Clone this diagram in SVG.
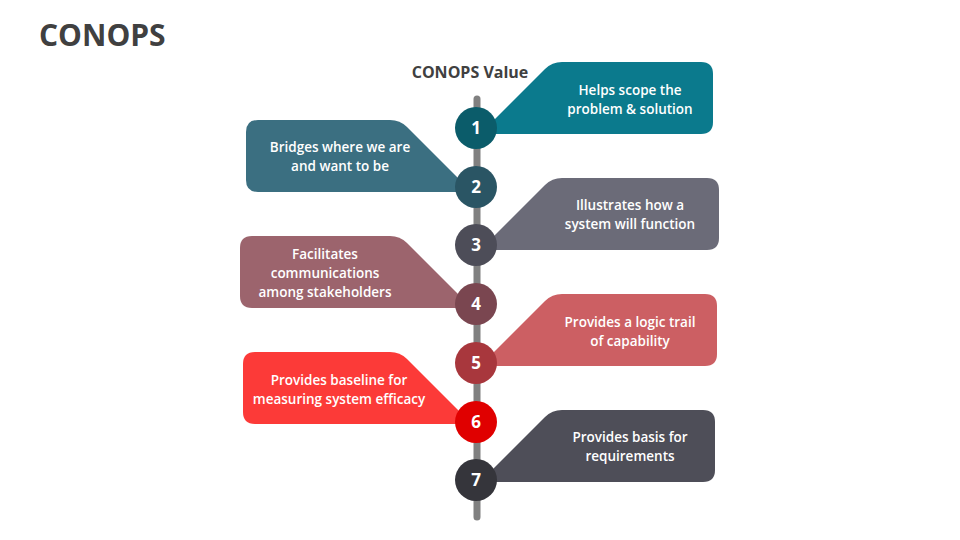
<svg xmlns="http://www.w3.org/2000/svg" width="960" height="540" viewBox="0 0 960 540">
<style>
.t{font-family:"Open Sans","Liberation Sans",sans-serif;font-weight:600;font-size:13.5px;fill:#fff;text-anchor:middle}
.n{font-family:"Open Sans","Liberation Sans",sans-serif;font-weight:700;font-size:17px;fill:#fff;text-anchor:middle}
.h{font-family:"Open Sans","Liberation Sans",sans-serif;font-weight:700;fill:#404040}
</style>
<rect width="960" height="540" fill="#fff"/>
<text class="h" x="39" y="46" font-size="30">CONOPS</text>
<text class="h" x="470" y="78" font-size="16" text-anchor="middle">CONOPS Value</text>
<g id="connectors">
<line x1="477" y1="99" x2="477" y2="517" stroke="#808080" stroke-width="7" stroke-linecap="round"/>
</g>
<g id="n1">
<path d="M480 134 L701 134 Q713 134 713 122 L713 74 Q713 62 701 62 L562 62 Q552 62 545 69 Z" fill="#0B7A8D"/>
<circle cx="476" cy="128" r="21" fill="#0B5C6A"/>
<text class="n" x="476" y="134">1</text>
<text class="t" x="630" y="95">Helps scope the</text>
<text class="t" x="630" y="114">problem &amp; solution</text>
</g>
<g id="n2">
<path d="M472 192 L258 192 Q246 192 246 180 L246 132 Q246 120 258 120 L390 120 Q400 120 407 127 Z" fill="#3B6F81"/>
<circle cx="476" cy="187" r="21" fill="#2A5564"/>
<text class="n" x="476" y="193">2</text>
<text class="t" x="340" y="152">Bridges where we are</text>
<text class="t" x="340" y="171">and want to be</text>
</g>
<g id="n3">
<path d="M480 250 L707 250 Q719 250 719 238 L719 190 Q719 178 707 178 L562 178 Q552 178 545 185 Z" fill="#6B6B78"/>
<circle cx="476" cy="245" r="21" fill="#4D4D58"/>
<text class="n" x="476" y="251">3</text>
<text class="t" x="630" y="210">Illustrates how a</text>
<text class="t" x="630" y="229">system will function</text>
</g>
<g id="n4">
<path d="M472 308 L252 308 Q240 308 240 296 L240 248 Q240 236 252 236 L390 236 Q400 236 407 243 Z" fill="#9C646D"/>
<circle cx="476" cy="304" r="21" fill="#7A4650"/>
<text class="n" x="476" y="310">4</text>
<text class="t" x="325" y="259">Facilitates</text>
<text class="t" x="325" y="278">communications</text>
<text class="t" x="325" y="297">among stakeholders</text>
</g>
<g id="n5">
<path d="M480 366 L705 366 Q717 366 717 354 L717 306 Q717 294 705 294 L562 294 Q552 294 545 301 Z" fill="#CC5F63"/>
<circle cx="476" cy="363" r="21" fill="#A8373D"/>
<text class="n" x="476" y="369">5</text>
<text class="t" x="630" y="327">Provides a logic trail</text>
<text class="t" x="630" y="346">of capability</text>
</g>
<g id="n6">
<path d="M472 424 L255 424 Q243 424 243 412 L243 364 Q243 352 255 352 L390 352 Q400 352 407 359 Z" fill="#FC3A38"/>
<circle cx="476" cy="422" r="21" fill="#E00000"/>
<text class="n" x="476" y="428">6</text>
<text class="t" x="339" y="385">Provides baseline for</text>
<text class="t" x="339" y="404">measuring system efficacy</text>
</g>
<g id="n7">
<path d="M480 482 L703 482 Q715 482 715 470 L715 422 Q715 410 703 410 L562 410 Q552 410 545 417 Z" fill="#4E4E58"/>
<circle cx="476" cy="480" r="21" fill="#35353B"/>
<text class="n" x="476" y="486">7</text>
<text class="t" x="630" y="442">Provides basis for</text>
<text class="t" x="630" y="461">requirements</text>
</g>
</svg>
